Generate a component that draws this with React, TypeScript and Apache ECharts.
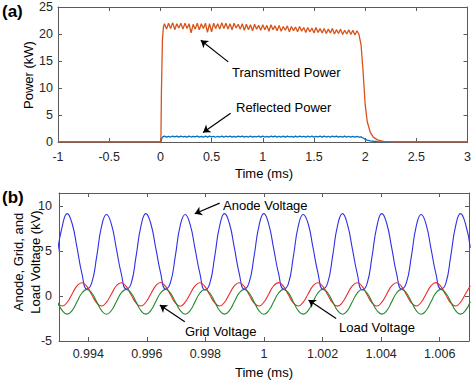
import React, { useEffect, useRef } from 'react';
import * as echarts from 'echarts';

// ---------- (a) Power vs time ----------
const pwrPreTime = [-1, 0.005, 0.01, 0.02, 0.03];
const txPre = [0, 0, 9, 19, 21.3];
const rfPre = [0, 0, 0.4, 0.9, 1.0];
const plateauStart = 0.04;
const plateauStep = 0.02;
const txPlateau = [
  21.9, 20.9, 22.0, 21.0, 22.1, 20.8, 21.9, 21.1, 22.0, 20.9,
  22.0, 21.0, 21.9, 20.2, 21.8, 20.9, 22.0, 20.8, 21.9, 21.0,
  22.0, 20.3, 21.9, 20.4, 22.0, 21.0, 21.9, 20.9, 22.1, 21.0,
  22.0, 20.9, 21.9, 20.8, 22.0, 21.1, 21.8, 20.9, 21.9, 20.7,
  21.8, 20.8, 21.7, 20.6, 21.8, 20.9, 21.6, 20.7, 21.7, 20.8,
  21.6, 20.5, 21.7, 20.8, 21.5, 20.6, 21.6, 20.5, 21.4, 20.7,
  21.5, 20.4, 21.4, 20.6, 21.3, 20.4, 21.4, 20.5, 21.2, 20.3,
  21.2, 20.4, 21.1, 20.2, 21.2, 20.3, 21.0, 20.2, 21.0, 20.1,
  20.9, 20.2, 21.0, 20.0, 20.8, 20.1, 20.9, 19.9, 20.7, 20.0,
  20.8, 19.9, 20.7, 19.8, 20.6, 19.9,
];
const rfPlateau = [
  1.1, 0.9, 1.05, 0.92, 1.1, 0.95, 1.08, 0.9, 1.1, 0.93,
  1.05, 0.9, 1.1, 0.92, 1.06, 0.94, 1.1, 0.9, 1.04, 0.92,
  1.08, 0.9, 1.1, 0.95, 1.05, 0.88, 1.06, 0.92, 1.1, 0.9,
  1.07, 0.93, 1.1, 0.9, 1.05, 0.92, 1.08, 0.95, 1.1, 0.9,
  1.06, 0.92, 1.1, 0.9, 1.04, 0.93, 1.08, 0.9, 1.1, 0.92,
  1.05, 0.9, 1.08, 0.94, 1.1, 0.9, 1.06, 0.92, 1.08, 0.9,
  1.1, 0.93, 1.05, 0.9, 1.08, 0.92, 1.1, 0.95, 1.06, 0.9,
  1.08, 0.92, 1.1, 0.9, 1.05, 0.93, 1.08, 0.9, 1.1, 0.92,
  1.06, 0.9, 1.08, 0.94, 1.1, 0.9, 1.05, 0.92, 1.08, 0.9,
  1.06, 0.92, 1.05, 0.9, 1.02, 0.9,
];
const pwrPostTime = [1.96, 1.98, 2.0, 2.02, 2.05, 2.08, 2.12, 2.18, 2.3, 3.0];
const txPost = [18, 13, 7, 3.8, 1.8, 0.9, 0.4, 0.1, 0, 0];
const rfPost = [0.95, 0.75, 0.5, 0.35, 0.22, 0.14, 0.07, 0.02, 0, 0];

// ---------- (b) Voltages vs time ----------
const wfStart = 0.992944;
const wfStep = 0.000167875;
const anodeV = [
  4.8, 7.8,
  9.2, 8.1, 5.4, 2.5, 0.8, 1.5, 4.4, 7.8,
  9.1, 8.0, 5.3, 2.5, 0.8, 1.4, 4.4, 7.8,
  9.2, 8.1, 5.4, 2.6, 0.8, 1.5, 4.5, 7.9,
  9.1, 8.0, 5.3, 2.5, 0.7, 1.4, 4.4, 7.8,
  9.2, 8.1, 5.4, 2.5, 0.8, 1.5, 4.4, 7.8,
  9.2, 8.0, 5.3, 2.5, 0.8, 1.4, 4.4, 7.8,
  9.1, 8.1, 5.4, 2.6, 0.8, 1.5, 4.5, 7.9,
  9.2, 8.0, 5.3, 2.5, 0.7, 1.4, 4.4, 7.8,
  9.2, 8.1, 5.4, 2.5, 0.8, 1.5, 4.4, 7.8,
  9.1, 8.0, 5.3, 2.5, 0.8, 1.4, 4.4, 7.8,
  9.2, 8.1, 5.4,
];
const loadV = [
  -0.75, -1.1,
  -0.68, 0.24, 1.15, 1.5, 1.09, 0.16, -0.75, -1.1,
  -0.66, 0.25, 1.16, 1.5, 1.08, 0.15, -0.76, -1.1,
  -0.68, 0.24, 1.15, 1.52, 1.09, 0.16, -0.75, -1.12,
  -0.67, 0.24, 1.14, 1.5, 1.08, 0.15, -0.74, -1.1,
  -0.68, 0.25, 1.15, 1.5, 1.09, 0.16, -0.75, -1.1,
  -0.68, 0.24, 1.16, 1.51, 1.09, 0.16, -0.76, -1.1,
  -0.66, 0.24, 1.15, 1.5, 1.08, 0.15, -0.75, -1.11,
  -0.68, 0.25, 1.15, 1.5, 1.09, 0.16, -0.75, -1.1,
  -0.67, 0.24, 1.14, 1.5, 1.09, 0.16, -0.74, -1.1,
  -0.68, 0.24, 1.15, 1.51, 1.08, 0.15, -0.75, -1.1,
  -0.68, 0.24, 1.15,
];
const gridV = [
  -0.63, -1.61,
  -2.0, -1.61, -0.63, 0.35, 0.75, 0.35, -0.63, -1.61,
  -2.02, -1.6, -0.62, 0.36, 0.76, 0.35, -0.64, -1.62,
  -2.0, -1.61, -0.63, 0.35, 0.75, 0.34, -0.63, -1.61,
  -2.01, -1.62, -0.64, 0.35, 0.74, 0.35, -0.62, -1.6,
  -2.0, -1.61, -0.63, 0.36, 0.75, 0.35, -0.63, -1.61,
  -2.02, -1.6, -0.63, 0.35, 0.76, 0.36, -0.64, -1.62,
  -2.0, -1.61, -0.62, 0.35, 0.75, 0.35, -0.63, -1.61,
  -2.01, -1.61, -0.63, 0.34, 0.74, 0.35, -0.63, -1.6,
  -2.0, -1.62, -0.64, 0.35, 0.75, 0.35, -0.62, -1.61,
  -2.02, -1.6, -0.63, 0.36, 0.76, 0.35, -0.63, -1.61,
  -2.0, -1.61, -0.63,
];

// ---------- annotations ----------
const topTitleX = 'Time (ms)';
const topTitleY = 'Power (kW)';
const botTitleY = ['Anode, Grid, and', 'Load Voltage (kV)'];
const arrowsTop = {
  transmitted: [[0.663, 14.84], [0.395, 18.84]],
  reflected: [[0.686, 5.34], [0.417, 1.77]],
};
const arrowsBot = [
  [[0.998487, 10.37], [0.997635, 9.19]],
  [[0.997295, -2.86], [0.996443, -1.0]],
  [[1.002463, -2.48], [1.00152, -0.44]],
];

const FONT = 'Liberation Sans, Arial, Helvetica, sans-serif';
const AXIS_COLOR = '#5a5a5a';
const LABEL_COLOR = '#262626';

function buildPower(pre: number[], plateau: number[], post: number[]) {
  const out: number[][] = [];
  pre.forEach((v, i) => out.push([pwrPreTime[i], v]));
  plateau.forEach((v, i) => out.push([plateauStart + i * plateauStep, v]));
  post.forEach((v, i) => out.push([pwrPostTime[i], v]));
  return out;
}
function buildWave(vals: number[]) {
  return vals.map((v, i) => [wfStart + i * wfStep, v]);
}

function xAxisPair(grid: number, extra: any) {
  const common = {
    gridIndex: grid,
    type: 'value',
    splitLine: { show: false },
    axisLine: { show: true, onZero: false, lineStyle: { color: AXIS_COLOR, width: 1 } },
    axisTick: { show: true, inside: true, length: 4, lineStyle: { color: AXIS_COLOR } },
    ...extra,
  };
  return [
    {
      ...common,
      position: 'bottom',
      axisLabel: {
        show: true,
        color: LABEL_COLOR,
        fontSize: 12.5,
        fontFamily: FONT,
        margin: grid === 0 ? 8 : 6,
        showMinLabel: extra.showMinLabel,
        showMaxLabel: extra.showMaxLabel,
      },
    },
    { ...common, position: 'top', axisLabel: { show: false } },
  ];
}
function yAxisPair(grid: number, extra: any) {
  const common = {
    gridIndex: grid,
    type: 'value',
    splitLine: { show: false },
    axisLine: { show: true, onZero: false, lineStyle: { color: AXIS_COLOR, width: 1 } },
    axisTick: { show: true, inside: true, length: 4, lineStyle: { color: AXIS_COLOR } },
    ...extra,
  };
  return [
    {
      ...common,
      position: 'left',
      axisLabel: {
        show: true,
        color: LABEL_COLOR,
        fontSize: 12.5,
        fontFamily: FONT,
        margin: grid === 0 ? 5 : 7,
        showMaxLabel: extra.showMaxLabel,
      },
    },
    { ...common, position: 'right', axisLabel: { show: false } },
  ];
}

function arrowMarkLine(pairs: number[][][]) {
  return {
    silent: true,
    symbol: ['none', 'arrow'],
    symbolSize: 7,
    label: { show: false },
    lineStyle: { color: '#000', width: 1.2, type: 'solid' },
    emphasis: { disabled: true },
    data: pairs.map((p) => [{ coord: p[0] }, { coord: p[1] }]),
  };
}

function txt(text: string, x: number, y: number, opts: any = {}) {
  return {
    type: 'text',
    x,
    y,
    rotation: opts.rotation || 0,
    style: {
      text,
      fill: '#000',
      font: `${opts.bold ? 'bold ' : ''}${opts.size || 13}px ${FONT}`,
      align: opts.align || 'left',
      verticalAlign: 'middle',
    },
  };
}

export default function App() {
  const ref = useRef<HTMLDivElement>(null);
  useEffect(() => {
    if (!ref.current) return;
    const chart = echarts.init(ref.current, undefined, { renderer: 'svg' });
    const xa = [
      ...xAxisPair(0, { min: -1, max: 3, interval: 0.5 }),
      ...xAxisPair(1, {
        min: 0.993,
        max: 1.007,
        splitNumber: 7,
        minInterval: 0.002,
        maxInterval: 0.002,
        showMinLabel: false,
        showMaxLabel: false,
      }),
    ];
    const ya = [
      ...yAxisPair(0, { min: 0, max: 25, interval: 5 }),
      ...yAxisPair(1, { min: -5, max: 11.5, interval: 5, showMaxLabel: false }),
    ];
    chart.setOption({
      animation: false,
      backgroundColor: '#ffffff',
      grid: [
        { left: 58, top: 7, width: 412, height: 135 },
        { left: 59, top: 193, width: 410, height: 148 },
      ],
      xAxis: xa,
      yAxis: ya,
      series: [
        {
          name: 'Reflected Power',
          type: 'line',
          xAxisIndex: 0,
          yAxisIndex: 0,
          showSymbol: false,
          data: buildPower(rfPre, rfPlateau, rfPost),
          lineStyle: { color: '#0072BD', width: 1.3 },
          itemStyle: { color: '#0072BD' },
          markLine: arrowMarkLine([arrowsTop.reflected]),
        },
        {
          name: 'Transmitted Power',
          type: 'line',
          xAxisIndex: 0,
          yAxisIndex: 0,
          showSymbol: false,
          data: buildPower(txPre, txPlateau, txPost),
          lineStyle: { color: '#D95319', width: 1.3 },
          itemStyle: { color: '#D95319' },
          markLine: arrowMarkLine([arrowsTop.transmitted]),
        },
        {
          name: 'Anode Voltage',
          type: 'line',
          xAxisIndex: 2,
          yAxisIndex: 2,
          showSymbol: false,
          smooth: true,
          data: buildWave(anodeV),
          lineStyle: { color: '#2f2fe6', width: 1.1 },
          itemStyle: { color: '#2f2fe6' },
          markLine: arrowMarkLine(arrowsBot),
        },
        {
          name: 'Load Voltage',
          type: 'line',
          xAxisIndex: 2,
          yAxisIndex: 2,
          showSymbol: false,
          smooth: true,
          data: buildWave(loadV),
          lineStyle: { color: '#ec2a2a', width: 1.1 },
          itemStyle: { color: '#ec2a2a' },
        },
        {
          name: 'Grid Voltage',
          type: 'line',
          xAxisIndex: 2,
          yAxisIndex: 2,
          showSymbol: false,
          smooth: true,
          data: buildWave(gridV),
          lineStyle: { color: '#24882a', width: 1.1 },
          itemStyle: { color: '#24882a' },
        },
      ],
      graphic: [
        txt('(a)', 2, 11, { bold: true, size: 17 }),
        txt('(b)', 2, 197, { bold: true, size: 17 }),
        txt(topTitleY, 28, 75, { rotation: Math.PI / 2, align: 'center' }),
        txt(topTitleX, 264, 173, { align: 'center' }),
        txt(topTitleX, 264, 372, { align: 'center' }),
        txt(botTitleY[0], 18, 262, { rotation: Math.PI / 2, align: 'center' }),
        txt(botTitleY[1], 35, 262, { rotation: Math.PI / 2, align: 'center' }),
        txt('Transmitted Power', 232, 72),
        txt('Reflected Power', 236, 107),
        txt('Anode Voltage', 223, 205),
        txt('Grid Voltage', 185, 331),
        txt('Load Voltage', 339, 327),
      ],
    });
    return () => chart.dispose();
  }, []);
  return (
    <div
      ref={ref}
      style={{ position: 'absolute', left: 0, top: 0, width: 474, height: 381, background: '#fff' }}
    />
  );
}
